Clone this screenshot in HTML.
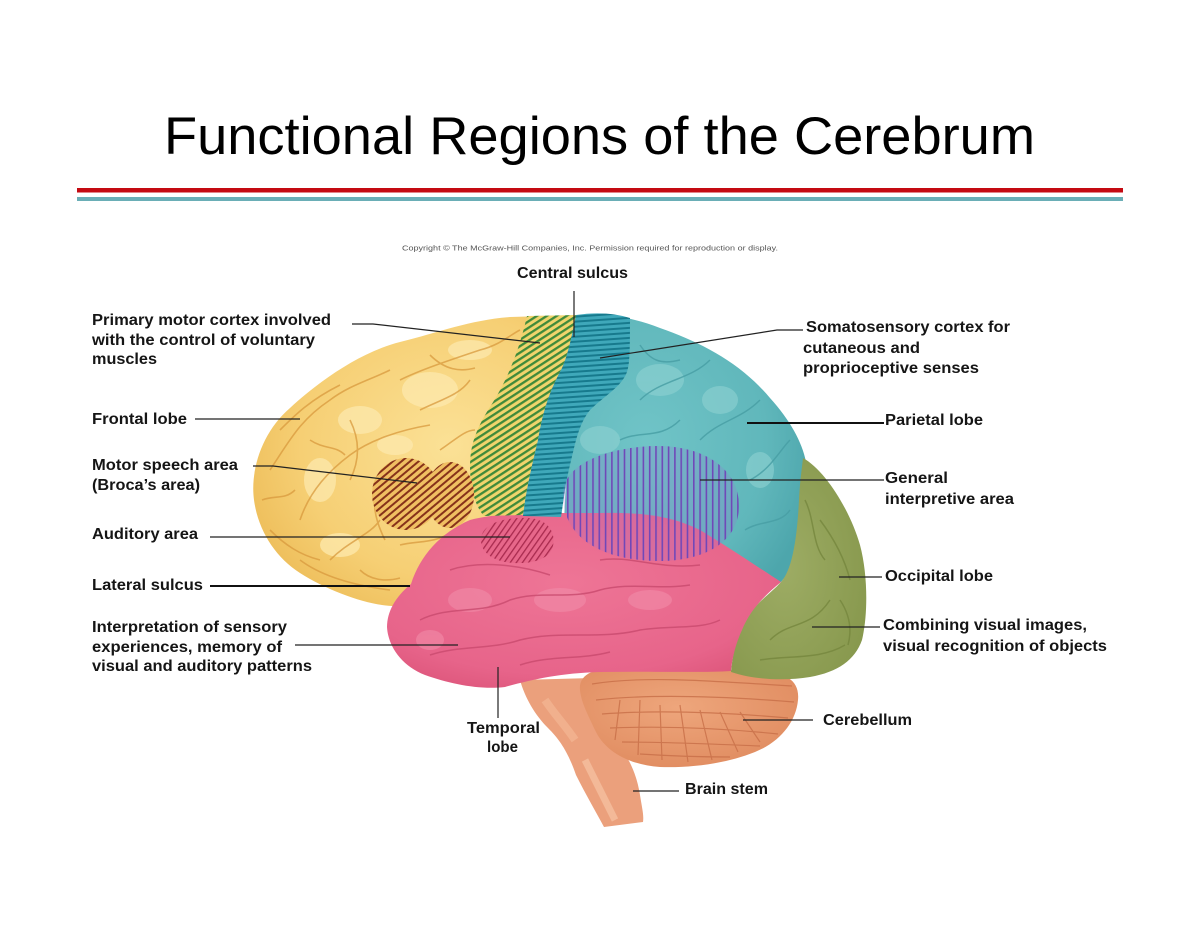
<!DOCTYPE html>
<html><head><meta charset="utf-8"><style>
html,body{margin:0;padding:0;background:#fff;}
svg{display:block;}
text{font-family:"Liberation Sans",Arial,sans-serif;}
.l{font-weight:bold;font-size:15.5px;fill:#151515;}
</style></head><body>
<svg width="1200" height="927" viewBox="0 0 1200 927" xmlns="http://www.w3.org/2000/svg">
<defs>
<pattern id="pg" patternUnits="userSpaceOnUse" width="8" height="5.4" patternTransform="rotate(-33)">
<rect width="8" height="5.4" fill="#f0d46c"/><rect y="0" width="8" height="2.3" fill="#3f8a3a"/></pattern>
<pattern id="pb" patternUnits="userSpaceOnUse" width="8" height="5" patternTransform="rotate(-4)">
<rect width="8" height="5" fill="#3fa8ba"/><rect y="0" width="8" height="2" fill="#177a8d"/></pattern>
<pattern id="pp" patternUnits="userSpaceOnUse" width="6.3" height="8">
<rect x="0" width="1.6" height="8" fill="#7048b8"/></pattern>
<pattern id="pr" patternUnits="userSpaceOnUse" width="8" height="5.5" patternTransform="rotate(-40)">
<rect width="8" height="5.5" fill="#f0bf62"/><rect y="0" width="8" height="2" fill="#86321a"/></pattern>
<pattern id="pa" patternUnits="userSpaceOnUse" width="8" height="5" patternTransform="rotate(-55)">
<rect width="8" height="5" fill="#e7678a"/><rect y="0" width="8" height="1.3" fill="#a82a4e"/></pattern>
<radialGradient id="gy" cx="0.6" cy="0.45" r="0.65"><stop offset="0" stop-color="#fbe196"/><stop offset="0.7" stop-color="#f6cf74"/><stop offset="1" stop-color="#eebf5c"/></radialGradient>
<radialGradient id="gt" cx="0.35" cy="0.45" r="0.7"><stop offset="0" stop-color="#70c4c7"/><stop offset="0.7" stop-color="#60b7bb"/><stop offset="1" stop-color="#4da6ac"/></radialGradient>
<radialGradient id="gk" cx="0.45" cy="0.4" r="0.7"><stop offset="0" stop-color="#ee7596"/><stop offset="0.75" stop-color="#e7648a"/><stop offset="1" stop-color="#dc5479"/></radialGradient>
<radialGradient id="go" cx="0.4" cy="0.5" r="0.7"><stop offset="0" stop-color="#9dac64"/><stop offset="1" stop-color="#86974c"/></radialGradient>
<radialGradient id="gc" cx="0.45" cy="0.4" r="0.7"><stop offset="0" stop-color="#eea67c"/><stop offset="1" stop-color="#df8a5e"/></radialGradient>
</defs>

<!-- title -->
<text x="164" y="154" font-size="53" fill="#000" textLength="871" lengthAdjust="spacingAndGlyphs">Functional Regions of the Cerebrum</text>
<rect x="77" y="188" width="1046" height="4.5" fill="#c40a12"/>
<rect x="77" y="197" width="1046" height="4" fill="#6aaeb6"/>
<text x="402" y="250.5" font-size="7.3" fill="#555" textLength="376" lengthAdjust="spacingAndGlyphs">Copyright © The McGraw-Hill Companies, Inc. Permission required for reproduction or display.</text>

<!-- brain stem -->
<path d="M520,680 L592,678 C594,700 600,720 612,738 C626,752 636,770 640,795 C642,808 644,815 643,822 L604,827 C596,812 586,795 576,775 C568,752 560,740 548,728 C535,715 525,698 520,680 Z" fill="#eba07c"/>
<path d="M585,760 C595,780 605,800 615,820" stroke="#f7c3a4" stroke-width="7" fill="none" opacity="0.7"/>
<path d="M545,700 C555,715 565,725 575,740" stroke="#f5bb9a" stroke-width="8" fill="none" opacity="0.6"/>

<!-- cerebellum -->
<path d="M580,690 C578,672 600,666 630,668 C670,671 720,669 760,671 C785,672 800,680 798,700 C796,722 780,742 755,752 C725,764 690,768 660,767 C630,765 605,752 595,730 C588,715 581,702 580,690 Z" fill="url(#gc)"/>
<g stroke="#c86f48" stroke-width="1.2" fill="none" opacity="0.8">
<path d="M592,684 C640,676 700,680 792,686"/>
<path d="M596,700 C650,694 720,696 794,702"/>
<path d="M602,714 C655,710 720,712 788,718"/>
<path d="M610,728 C660,726 720,728 778,734"/>
<path d="M622,742 C665,742 710,744 760,746"/>
<path d="M640,754 C670,756 705,757 730,757"/>
<path d="M620,700 L615,740 M640,700 L638,755 M660,705 L662,760 M680,705 L688,762 M700,710 L712,760 M720,712 L738,752 M740,712 L760,742"/>
</g>

<!-- yellow frontal -->
<path d="M395,606 C370,606 330,592 300,573 C275,557 258,530 254,500 C250,470 262,432 290,408 C318,382 360,352 400,342 C440,332 470,320 510,317 L580,315 L575,420 L560,520 L470,522 C440,535 425,555 412,583 C405,595 400,602 395,606 Z" fill="url(#gy)"/>
<g fill="#fde9ad" opacity="0.75">
<ellipse cx="430" cy="390" rx="28" ry="18"/><ellipse cx="360" cy="420" rx="22" ry="14"/>
<ellipse cx="320" cy="480" rx="16" ry="22"/><ellipse cx="470" cy="350" rx="22" ry="10"/>
<ellipse cx="340" cy="545" rx="20" ry="12"/><ellipse cx="395" cy="445" rx="18" ry="10"/>
</g>
<g stroke="#d99a3e" stroke-width="1.6" fill="none" opacity="0.75">
<path d="M270,470 C290,440 300,420 330,400 C350,385 370,380 390,370"/>
<path d="M300,520 C310,490 330,470 350,455 C370,440 400,430 430,425"/>
<path d="M330,560 C350,540 370,535 380,520"/>
<path d="M400,380 C420,370 450,360 480,350 C500,345 510,335 520,330"/>
<path d="M420,410 C440,400 460,395 470,380"/>
<path d="M300,560 C320,575 350,585 390,590"/>
<path d="M350,420 C360,440 360,460 350,480"/>
<path d="M440,450 C455,440 465,430 475,430"/>
<path d="M280,430 C295,415 310,400 340,385"/>
<path d="M270,530 C285,545 300,555 320,560"/>
<path d="M380,480 C370,500 375,520 385,540"/>
<path d="M400,545 C420,540 440,545 460,525"/>
<path d="M450,470 C460,480 465,495 470,505"/>
<path d="M262,500 C275,495 285,500 295,490"/>
<path d="M310,440 C325,450 335,445 345,455"/>
<path d="M430,355 C445,370 460,372 475,368"/>
<path d="M360,570 C370,580 385,582 400,578"/>
</g>

<!-- teal parietal -->
<path d="M575,316 C600,313 630,316 660,328 C700,342 740,362 770,398 C790,420 802,442 806,462 C806,500 800,540 795,565 L781,582 C760,592 700,595 640,595 L560,595 Z" fill="url(#gt)"/>
<g fill="#8fd2d2" opacity="0.6">
<ellipse cx="660" cy="380" rx="24" ry="16"/><ellipse cx="720" cy="400" rx="18" ry="14"/>
<ellipse cx="600" cy="440" rx="20" ry="14"/><ellipse cx="760" cy="470" rx="14" ry="18"/>
</g>
<g stroke="#479ea4" stroke-width="1.5" fill="none" opacity="0.8">
<path d="M640,400 C660,380 690,380 710,360"/>
<path d="M700,440 C720,420 740,420 760,400"/>
<path d="M620,440 C640,430 660,440 680,420"/>
<path d="M750,480 C770,470 780,450 790,440"/>
<path d="M745,530 C760,520 780,525 790,510"/>
<path d="M640,345 C650,360 660,365 680,360"/>
</g>

<!-- olive occipital -->
<path d="M803,458 C825,470 850,510 860,545 C868,575 868,615 862,640 C855,660 838,672 810,677 C785,681 755,680 731,672 C733,650 738,630 748,615 C760,600 772,592 781,582 C792,570 797,540 799,500 C800,480 802,468 803,458 Z" fill="url(#go)"/>
<g stroke="#76873e" stroke-width="1.5" fill="none" opacity="0.8">
<path d="M770,640 C790,620 810,630 830,600"/>
<path d="M820,520 C835,540 845,560 850,580"/>
<path d="M760,660 C790,655 820,660 845,645"/>
<path d="M805,500 C815,520 812,545 825,560"/>
<path d="M840,600 C850,615 852,630 848,645"/>
</g>

<!-- pink temporal -->
<path d="M411,584 C420,556 440,533 470,520 C500,512 540,513 600,513 C650,512 675,518 700,530 C725,545 755,565 781,582 C765,595 750,610 742,630 C735,645 732,660 731,671 C700,673 650,671 600,672 C560,673 530,680 505,687 C480,690 450,684 425,675 C400,665 388,645 387,627 C387,612 395,597 411,584 Z" fill="url(#gk)"/>
<g fill="#f28fab" opacity="0.55">
<ellipse cx="470" cy="600" rx="22" ry="12"/><ellipse cx="560" cy="600" rx="26" ry="12"/>
<ellipse cx="650" cy="600" rx="22" ry="10"/><ellipse cx="430" cy="640" rx="14" ry="10"/>
</g>
<g stroke="#c94a6e" stroke-width="1.5" fill="none" opacity="0.8">
<path d="M420,620 C450,605 480,615 510,600 C540,590 570,600 600,590 C630,582 660,590 690,585"/>
<path d="M430,655 C460,645 490,650 520,640 C560,630 600,640 640,630 C670,625 700,630 720,620"/>
<path d="M450,570 C480,560 520,565 550,575"/>
<path d="M600,560 C630,555 660,570 700,565"/>
<path d="M520,665 C550,655 580,660 610,652"/>
</g>

<!-- primary motor stripe -->
<path d="M527,316 L578,315 C572,335 568,355 562,368 C550,390 543,410 538,440 C532,465 526,490 523,515 L484,516 C474,505 470,485 470,467 C470,445 476,430 488,410 C505,385 518,355 527,316 Z" fill="url(#pg)"/>
<!-- somatosensory stripe -->
<path d="M576,315 C595,312 615,313 630,318 C630,340 630,360 628,368 C625,385 605,395 590,410 C578,425 575,445 570,465 C565,485 563,505 561,517 L523,516 C526,490 532,465 538,440 C543,410 550,390 562,368 C568,355 572,335 576,315 Z" fill="url(#pb)"/>

<!-- general interpretive -->
<path d="M563,498 C560,462 612,447 655,446 C705,445 740,470 739,507 C738,545 700,561 660,561 C605,561 565,540 563,498 Z" fill="#9a70d0" fill-opacity="0.22"/>
<path d="M563,498 C560,462 612,447 655,446 C705,445 740,470 739,507 C738,545 700,561 660,561 C605,561 565,540 563,498 Z" fill="url(#pp)"/>

<!-- Broca -->
<ellipse cx="450" cy="495" rx="24" ry="33" fill="url(#pr)"/>
<ellipse cx="406" cy="494" rx="34" ry="36" fill="url(#pr)"/>
<!-- auditory -->
<path d="M481,540 C481,524 503,517 528,518 C548,519 556,532 553,546 C550,559 533,564 514,563 C494,562 481,553 481,540 Z" fill="url(#pa)"/>

<!-- leader lines -->
<g stroke="#222" stroke-width="1.2" fill="none">
<path d="M574,291 L574,337"/>
<path d="M352,324 L373,324 L540,343"/>
<path d="M600,358 L777,330 L803,330"/>
<path d="M195,419 L300,419"/>
<path d="M253,466 L273,466 L417,483"/>
<path d="M210,537 L510,537"/>
<path d="M700,480 L884,480"/>
<path d="M839,577 L882,577"/>
<path d="M295,645 L458,645"/>
<path d="M812,627 L880,627"/>
<path d="M498,667 L498,718"/>
<path d="M743,720 L813,720"/>
<path d="M633,791 L679,791"/>
</g>
<g stroke="#111" stroke-width="2" fill="none">
<path d="M747,423 L884,423"/>
<path d="M210,586 L410,586"/>
</g>

<!-- labels -->
<text class="l" x="92" y="325" textLength="239" lengthAdjust="spacingAndGlyphs">Primary motor cortex involved</text>
<text class="l" x="92" y="345" textLength="223" lengthAdjust="spacingAndGlyphs">with the control of voluntary</text>
<text class="l" x="92" y="364" textLength="65" lengthAdjust="spacingAndGlyphs">muscles</text>
<text class="l" x="92" y="424" textLength="95" lengthAdjust="spacingAndGlyphs">Frontal lobe</text>
<text class="l" x="92" y="470" textLength="146" lengthAdjust="spacingAndGlyphs">Motor speech area</text>
<text class="l" x="92" y="490" textLength="108" lengthAdjust="spacingAndGlyphs">(Broca’s area)</text>
<text class="l" x="92" y="539" textLength="106" lengthAdjust="spacingAndGlyphs">Auditory area</text>
<text class="l" x="92" y="590" textLength="111" lengthAdjust="spacingAndGlyphs">Lateral sulcus</text>
<text class="l" x="92" y="632" textLength="195" lengthAdjust="spacingAndGlyphs">Interpretation of sensory</text>
<text class="l" x="92" y="652" textLength="190" lengthAdjust="spacingAndGlyphs">experiences, memory of</text>
<text class="l" x="92" y="671" textLength="220" lengthAdjust="spacingAndGlyphs">visual and auditory patterns</text>

<text class="l" x="517" y="278" textLength="111" lengthAdjust="spacingAndGlyphs">Central sulcus</text>
<text class="l" x="806" y="332" textLength="204" lengthAdjust="spacingAndGlyphs">Somatosensory cortex for</text>
<text class="l" x="803" y="353" textLength="117" lengthAdjust="spacingAndGlyphs">cutaneous and</text>
<text class="l" x="803" y="373" textLength="176" lengthAdjust="spacingAndGlyphs">proprioceptive senses</text>
<text class="l" x="885" y="425" textLength="98" lengthAdjust="spacingAndGlyphs">Parietal lobe</text>
<text class="l" x="885" y="483" textLength="63" lengthAdjust="spacingAndGlyphs">General</text>
<text class="l" x="885" y="504" textLength="129" lengthAdjust="spacingAndGlyphs">interpretive area</text>
<text class="l" x="885" y="581" textLength="108" lengthAdjust="spacingAndGlyphs">Occipital lobe</text>
<text class="l" x="883" y="630" textLength="204" lengthAdjust="spacingAndGlyphs">Combining visual images,</text>
<text class="l" x="883" y="651" textLength="224" lengthAdjust="spacingAndGlyphs">visual recognition of objects</text>
<text class="l" x="467" y="733" textLength="73" lengthAdjust="spacingAndGlyphs">Temporal</text>
<text class="l" x="487" y="752" textLength="31" lengthAdjust="spacingAndGlyphs">lobe</text>
<text class="l" x="823" y="725" textLength="89" lengthAdjust="spacingAndGlyphs">Cerebellum</text>
<text class="l" x="685" y="794" textLength="83" lengthAdjust="spacingAndGlyphs">Brain stem</text>
</svg>
</body></html>
